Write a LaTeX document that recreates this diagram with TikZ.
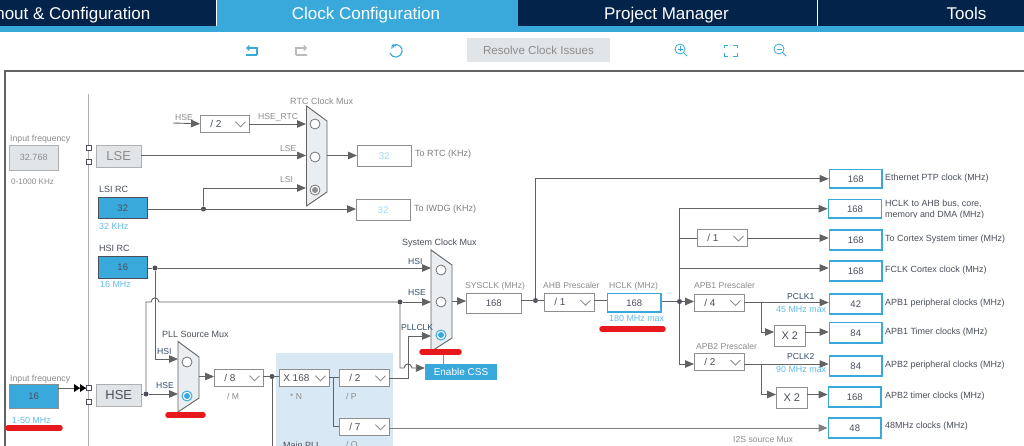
\documentclass[tikz,border=0pt]{standalone}
\usepackage{fontspec}
\setmainfont{Liberation Sans}
\usetikzlibrary{arrows.meta}
\definecolor{navy}{HTML}{03234B}
\definecolor{stblue}{HTML}{39A9DC}
\definecolor{lightgrey}{HTML}{E2E5E8}
\definecolor{muxfill}{HTML}{EAEEF1}
\definecolor{linegrey}{HTML}{626262}
\definecolor{boxgrey}{HTML}{8E8E8E}
\definecolor{txtgrey}{HTML}{8C8C8C}
\definecolor{txtdark}{HTML}{4A4F5A}
\definecolor{txtblue}{HTML}{62BDE8}
\definecolor{pllbg}{HTML}{D9E8F5}
\definecolor{redbar}{HTML}{E8191C}
\tikzset{
  conn/.style={draw=linegrey,line width=0.9pt},
  wire/.style={conn,-{Triangle[length=9pt,width=7.5pt]}},
  bx/.style={draw=boxgrey,line width=0.9pt,fill=white,inner sep=0pt,font=\fontsize{9.5}{11}\selectfont,text=txtdark},
  outbx/.style={draw=stblue,line width=1.8pt,fill=white,inner sep=0pt,font=\fontsize{9.5}{11}\selectfont,text=txtdark},
  bluebx/.style={draw=boxgrey,line width=0.9pt,fill=stblue,inner sep=0pt,font=\fontsize{9.5}{11}\selectfont,text=txtdark},
  bluebxdk/.style={draw=txtdark,line width=1pt,fill=stblue,inner sep=0pt,font=\fontsize{9.5}{11}\selectfont,text=txtdark},
  greybx/.style={draw=boxgrey!70,line width=0.9pt,fill=lightgrey,inner sep=0pt,font=\fontsize{13}{14}\selectfont,text=txtdark},
  disbx/.style={bx,text=txtblue!60,draw=boxgrey},
  lab/.style={anchor=west,inner sep=0pt,yshift=-0.8pt,font=\fontsize{8.6}{10}\selectfont,text=txtgrey},
  labdk/.style={lab,text=txtdark,font=\fontsize{9}{10}\selectfont},
  labrt/.style={lab,text=txtdark,font=\fontsize{8.95}{10.8}\selectfont},
  labbl/.style={lab,text=txtblue,font=\fontsize{8.9}{10}\selectfont},
  labnv/.style={lab,text=navy!80},
  tabtxt/.style={inner sep=0pt,text=white,text height=12pt,text depth=4pt,font=\fontsize{17}{19}\selectfont},
  dotn/.style={circle,fill=txtdark,inner sep=0pt,minimum size=5pt},
  port/.style={draw=txtdark,line width=0.8pt,fill=white,inner sep=0pt,minimum size=5.5pt},
  muxs/.style={draw=linegrey,line width=0.9pt,fill=muxfill},
  radio/.style={draw=txtdark!80,line width=0.8pt,fill=white,circle,inner sep=0pt,minimum size=10pt},
  radiosel/.style={draw=stblue,line width=1pt,fill=white,circle,inner sep=0pt,minimum size=10pt},
  redline/.style={draw=redbar,line width=5.5pt,line cap=round},
  icon/.style={draw=stblue,line width=1.1pt},
  iconoff/.style={draw=boxgrey!60,line width=1.1pt},
}
% box from corners
\newcommand{\mybx}[7]{%
  \pgfmathsetmacro{\cxa}{(#3+#5)/2}\pgfmathsetmacro{\cya}{(#4+#6)/2}%
  \pgfmathsetmacro{\wa}{#5-#3}\pgfmathsetmacro{\ha}{#6-#4}%
  \node[#2,minimum width=\wa pt,minimum height=\ha pt] (#1) at (\cxa,\cya) {#7};}
% combo box with chevron
\newcommand{\mycombo}[7][10pt]{%
  \mybx{#2}{bx}{#3}{#4}{#5}{#6}{}%
  \node[inner sep=0pt,anchor=west,font=\fontsize{10}{11}\selectfont,text=txtdark] (#2t) at ([xshift=#1]#2.west) {#7};
  \draw[draw=boxgrey,line width=0.9pt] ([xshift=-14pt,yshift=2pt]#2.east) -- ([xshift=-9pt,yshift=-3pt]#2.east) -- ([xshift=-4pt,yshift=2pt]#2.east);}
\begin{document}
\begin{tikzpicture}[x=1pt,y=-1pt]
\useasboundingbox (0,0) rectangle (1024,446);
\clip (0,0) rectangle (1024,446);
\fill[white] (0,0) rectangle (1024,446);
% header
\fill[navy] (0,0) rectangle (1024,26);
\fill[stblue] (0,26) rectangle (1024,32);
\fill[stblue] (217,0) rectangle (518,26);
\draw[white,line width=0.9pt] (216.5,0) -- (216.5,26);
\draw[white,line width=0.9pt] (817.5,0) -- (817.5,26);
\node[tabtxt,anchor=east] (t1) at (150.5,16) {nout \& Configuration};
\node[tabtxt] (t2) at (366,16) {Clock Configuration};
\node[tabtxt] (t3) at (666.5,16) {Project Manager};
\node[tabtxt] (t4) at (966.5,16) {Tools};
% toolbar
\mybx{resolve}{fill=lightgrey,inner sep=0pt,text=txtgrey,font=\fontsize{11.6}{13}\selectfont}{467}{38}{610}{62}{Resolve Clock Issues}
\draw[icon,-{Straight Barb[length=2.5pt,width=5pt]}] (257,55) -- (257,48) -- (246,48);
\draw[icon] (246,55) -- (257,55);
\draw[iconoff,-{Straight Barb[length=2.5pt,width=5pt]}] (296,55) -- (296,48) -- (307,48);
\draw[iconoff] (296,55) -- (307,55);
\draw[icon] (393,45) .. controls (399,43) and (403,48) .. (402,52) .. controls (401,58) and (392,59) .. (390,53);
\draw[icon,-{Straight Barb[length=2.5pt,width=5pt]}] (394,47.5) -- (392,44.5);
\draw[icon,line width=0.8pt] (680,49) circle (5);
\draw[icon,line width=0.8pt] (684,53) -- (687,56);
\draw[icon,line width=0.8pt] (677.5,49) -- (682.5,49) (680,46.5) -- (680,51.5);
\draw[icon,line width=0.8pt] (724,48) -- (724,45) -- (728,45) (733,45) -- (737,45) -- (737,48) (724,53) -- (724,56.5) -- (728,56.5) (733,56.5) -- (737,56.5) -- (737,53);
\draw[icon,line width=0.8pt] (779,49) circle (5);
\draw[icon,line width=0.8pt] (783,53) -- (786,56);
\draw[icon,line width=0.8pt] (776.5,49) -- (781.5,49);
% frame
\draw[draw=linegrey,line width=2pt] (5,447) -- (5,71) -- (1025,71);
\draw[draw=boxgrey!70,line width=0.9pt] (88.5,94) -- (88.5,447);
% PLL panel
\fill[pllbg] (276,353) rectangle (393,447);
% ---- text labels, left
\node[lab,font=\fontsize{8.7}{10}\selectfont] (lif1) at (10,138) {Input frequency};
\mybx{inlse}{greybx,font=\fontsize{9}{10}\selectfont,text=txtgrey}{9.5}{145.5}{58}{170}{32.768}
\node[lab,font=\fontsize{8.1}{9}\selectfont] (lrange1) at (11,181) {0-1000 KHz};
\mybx{lse}{greybx,text=txtgrey}{96.5}{145.5}{141}{167}{LSE}
\node[port] (p1) at (89,148) {};
\node[port] (p2) at (89,162) {};
\node[labdk] (llsi) at (99,189) {LSI RC};
\mybx{lsirc}{bluebxdk}{98.5}{197.5}{147}{219}{32}
\node[labbl] (llsi2) at (99,226) {32 KHz};
\node[labdk] (lhsi) at (99,248) {HSI RC};
\mybx{hsirc}{bluebxdk}{98.5}{256.5}{147}{278}{16}
\node[labbl] (lhsi2) at (100,284) {16 MHz};
\node[lab,font=\fontsize{8.7}{10}\selectfont] (lif2) at (10,378) {Input frequency};
\mybx{inhse}{bluebx}{9.5}{384.5}{58}{408}{16}
\node[labbl] (lrange2) at (12,420) {1-50 MHz};
\mybx{hse}{greybx}{96.5}{384.5}{141}{406}{HSE}
\node[port] (p3) at (89,388) {};
\node[port] (p4) at (89,402) {};
\coordinate (ifo) at (58,388);
\draw[conn] (ifo) -- (p3.west);
\fill[black] (74,384) -- (80,388) -- (74,392) -- cycle;
\fill[black] (80,384) -- (86,388) -- (80,392) -- cycle;
% ---- muxes
\draw[muxs] (306.5,106) -- (327,121) -- (327,192) -- (306.5,206) -- cycle;
\node[labdk,text=txtgrey] (lrtc) at (290,100) {RTC Clock Mux};
\node[radio] (r1) at (315,124) {};
\node[radio] (r2) at (315,157) {};
\node[radio] (r3) at (315,190) {};
\fill[txtgrey] (r3) circle (3);
\coordinate (rtcA) at (306,124);
\coordinate (rtcB) at (306,155.5);
\coordinate (rtcC) at (306,188);
\coordinate (rtcO) at (327,155.5);
\draw[muxs] (431,250) -- (452,265) -- (452,338) -- (431,351.5) -- cycle;
\node[labdk] (lsys) at (402,242) {System Clock Mux};
\node[radio] (s1) at (441,270) {};
\node[radio] (s2) at (441,302) {};
\node[radiosel] (s3) at (441,335) {};
\fill[stblue] (s3) circle (3);
\coordinate (sysA) at (431,268);
\coordinate (sysB) at (431,302);
\coordinate (sysC) at (431,336);
\coordinate (sysO) at (452,301);
\draw[muxs] (178,341.5) -- (199,357) -- (199,398) -- (178,412) -- cycle;
\node[labdk] (lpll) at (162,334) {PLL Source Mux};
\node[radio] (m1) at (187,362) {};
\node[radiosel] (m2) at (187,396) {};
\fill[stblue] (m2) circle (3);
\coordinate (pllA) at (178,359);
\coordinate (pllB) at (178,394);
\coordinate (pllO) at (199,376.5);
% ---- RTC part
\coordinate (hsefree) at (173,123);
\node[lab] (lh1) at (175,117) {HSE};
\mycombo{div2}{200.5}{115.5}{249}{132}{/ 2}
\draw[wire] (hsefree) -- (div2.west);
\draw[wire] (div2.east |- rtcA) -- (rtcA);
\node[lab] (lh2) at (258,117) {HSE\_RTC};
\draw[wire] (lse.east |- rtcB) -- (rtcB);
\node[lab] (lh3) at (280,148) {LSE};
\mybx{rtc}{disbx}{357.5}{145.5}{411}{166}{32}
\draw[wire] (rtcO) -- (rtc.west |- rtcO);
\node[labdk,text=txtgrey!90!black] (lrtcout) at (415,153) {To RTC (KHz)};
\node[lab] (lh4) at (280,179) {LSI};
\mybx{iwdg}{disbx}{356.5}{199.5}{410}{220}{32}
\node[labdk,text=txtgrey!90!black] (liwdg) at (414,208) {To IWDG (KHz)};
\node[dotn] (dlsi) at (203.5,209) {};
\draw[wire] (lsirc.east |- dlsi) -- (iwdg.west |- dlsi);
\draw[wire] (dlsi) |- (rtcC);
% ---- HSI / HSE buses
\node[dotn] (dhsi) at (155,268) {};
\draw[conn] (hsirc.east |- dhsi) -- (dhsi);
\draw[wire] (dhsi) -- (sysA |- dhsi);
\draw[wire] (dhsi) |- (pllA);
\node[dotn] (dhse) at (146,394) {};
\draw[conn] (hse.east |- dhse) -- (dhse);
\draw[wire] (dhse) -- (pllB);
\node[dotn] (dbus) at (400,302) {};
\coordinate (bumpa) at (151,302);
\coordinate (bumpb) at (159,302);
\draw[conn] (dhse) |- (bumpa) .. controls (152,296.5) and (158,296.5) .. (bumpb) -- (dbus);
\draw[wire] (dbus) -- (sysB);
\node[labnv] (lhsi3) at (408,261) {HSI};
\node[labnv] (lhse3) at (408,292) {HSE};
\node[labnv] (lpllclk) at (401,327) {PLLCLK};
\node[labnv] (lhsi4) at (157,351) {HSI};
\node[labnv] (lhse4) at (156,385) {HSE};
% ---- PLL
\mycombo{divm}{214.5}{369.5}{263}{386}{/ 8}
\draw[wire] (pllO) -- (divm.west |- pllO);
\node[lab] (lm) at (227,396) {/ M};
\node[dotn] (dpll) at (272,376.5) {};
\mycombo[4pt]{mulx}{279.5}{369.5}{329}{386}{X 168}
\node[lab] (ln) at (290,396) {* N};
\mycombo{divp}{339.5}{369.5}{389}{386}{/ 2}
\node[lab] (lp) at (346,396) {/ P};
\mycombo{divq}{339.5}{418.5}{389}{435}{/ 7}
\node[lab] (lq) at (346,444) {/ Q};
\node[labdk] (lmain) at (283,444) {Main PLL};
\draw[conn] (divm.east |- dpll) -- (mulx.west |- dpll);
\coordinate (dpllb) at (272,447);
\draw[conn] (dpll) -- (dpllb);
\coordinate (npq) at (333,377);
\draw[conn] (mulx.east |- npq) -- (divp.west |- npq);
\draw[conn] (npq) |- (divq.west);
% ---- system out
\mybx{sysclk}{bx}{466.5}{293.5}{521}{313}{168}
\draw[wire] (sysO) -- (sysclk.west |- sysO);
\node[lab] (lsysclk) at (465,285) {SYSCLK (MHz)};
% Enable CSS
\mybx{css}{fill=stblue,inner sep=0pt,text=white,font=\fontsize{10}{12}\selectfont}{425}{364}{497}{380}{Enable CSS}
\coordinate (muxb) at (443,350);
\draw[draw=boxgrey,line width=0.9pt] (muxb) -- (css.north -| muxb);
\coordinate (pa) at (408,378);
\draw[wire] (divp.east |- pa) -- (pa) |- (sysC);
\coordinate (cssb) at (404,368);
\coordinate (cssc) at (412,368);
\draw[wire] (dbus) |- (cssb) .. controls (405,362.5) and (411,362.5) .. (cssc) -- (css.west |- cssc);
% ---- AHB
\node[dotn] (dahb) at (535.5,300.5) {};
\mycombo{ahb}{544.5}{293.5}{594}{311}{/ 1}
\node[lab] (lahb) at (543,285) {AHB Prescaler};
\mybx{hclk}{outbx}{607.5}{293.5}{661}{312}{168}
\node[lab] (lhclk) at (609,285) {HCLK (MHz)};
\node[labbl] (l180) at (609,318) {180 MHz max};
\draw[conn] (sysclk.east |- dahb) -- (ahb.west |- dahb);
\draw[conn] (ahb.east |- dahb) -- (hclk.west |- dahb);
\node[dotn] (dhclk) at (679.5,301.5) {};
\draw[conn] (hclk.east |- dhclk) -- (dhclk);
\mybx{eth}{outbx}{829.5}{169.5}{882}{188}{168}
\node[labrt] (leth) at (885,177.5) {Ethernet PTP clock (MHz)};
\draw[wire] (dahb) |- (eth.west);
\mybx{ahbc}{outbx}{828.5}{199.5}{881.5}{218}{168}
\begin{scope}
\clip (880,195) rectangle (1024,218);
\node[labrt,align=left] (lahbc) at (885,208.5) {HCLK to AHB bus, core,\\memory and DMA (MHz)};
\end{scope}
\draw[wire] (dhclk) |- (ahbc.west);
\coordinate (cy) at (679.5,238);
\mycombo{cort}{697.5}{229.5}{747}{246.5}{/ 1}
\mybx{cortb}{outbx}{829.5}{230}{882}{250}{168}
\node[labrt] (lcort) at (885,238.5) {To Cortex System timer (MHz)};
\draw[conn] (dhclk) |- (cort.west |- cy);
\draw[wire] (cort.east |- cy) -- (cortb.west |- cy);
\mybx{fclk}{outbx}{829.5}{261}{882}{281}{168}
\node[labrt] (lfclk) at (885,269.5) {FCLK Cortex clock (MHz)};
\coordinate (fy) at (679.5,268);
\draw[wire] (fy) -- (fclk.west |- fy);
\draw[conn] (dhclk) -- (fy);
% APB1
\mycombo{apb1}{694.5}{294}{744}{311}{/ 4}
\node[lab] (lapb1) at (694,285) {APB1 Prescaler};
\draw[wire] (dhclk) -- (apb1.west |- dhclk);
\mybx{apb1c}{outbx}{829.5}{294}{882}{314}{42}
\node[labrt] (lapb1c) at (885,302.5) {APB1 peripheral clocks (MHz)};
\coordinate (a1y) at (744,302.5);
\coordinate (a1j) at (761,302.5);
\draw[wire] (a1y) -- (apb1c.west |- a1y);
\node[labnv] (lpclk1) at (787,296) {PCLK1};
\node[labbl] (l45) at (776,309) {45 MHz max};
\mybx{x21}{bx,font=\fontsize{11}{12}\selectfont}{774.5}{325.5}{805}{346}{X 2}
\coordinate (x1y) at (774,332);
\draw[wire] (a1j) |- (x1y);
\mybx{apb1t}{outbx}{829.5}{322.5}{882}{343}{84}
\node[labrt] (lapb1t) at (885,331.5) {APB1 Timer clocks (MHz)};
\draw[wire] (x21.east |- x1y) -- (apb1t.west |- x1y);
% APB2
\mycombo{apb2}{694.5}{353.5}{744}{370.5}{/ 2}
\node[lab] (lapb2) at (696,346) {APB2 Prescaler};
\coordinate (a2w) at (694,364);
\draw[wire] (dhclk) |- (a2w);
\mybx{apb2c}{outbx}{829.5}{356}{882}{376}{84}
\node[labrt] (lapb2c) at (885,364) {APB2 peripheral clocks (MHz)};
\coordinate (a2y) at (744,364);
\coordinate (a2j) at (761,364);
\draw[wire] (a2y) -- (apb2c.west |- a2y);
\node[labnv] (lpclk2) at (787,356) {PCLK2};
\node[labbl] (l90) at (776,369) {90 MHz max};
\mybx{x22}{bx,font=\fontsize{11}{12}\selectfont}{776.5}{387.5}{807}{408}{X 2}
\coordinate (x2y) at (776,394.5);
\draw[wire] (a2j) |- (x2y);
\mybx{apb2t}{outbx}{828.5}{387}{881}{407}{168}
\node[labrt] (lapb2t) at (885,395.5) {APB2 timer clocks (MHz)};
\draw[wire] (x22.east |- x2y) -- (apb2t.west |- x2y);
% 48 MHz
\mybx{m48}{outbx}{828.5}{418}{881}{438}{48}
\node[labrt] (lm48) at (885,425) {48MHz clocks (MHz)};
\coordinate (qy) at (389,428);
\draw[wire,draw=linegrey!80] (qy) -- (m48.west |- qy);
\node[lab] (li2s) at (733,439) {I2S source Mux};
% red marks
\coordinate (ra1) at (8,428);\coordinate (ra2) at (60,428);
\draw[redline] (ra1) -- (ra2);
\coordinate (rb1) at (168,415);\coordinate (rb2) at (203,415);
\draw[redline] (rb1) -- (rb2);
\coordinate (rc1) at (422,352);\coordinate (rc2) at (459,352);
\draw[redline] (rc1) -- (rc2);
\coordinate (rd1) at (602,329);\coordinate (rd2) at (663,329);
\draw[redline] (rd1) -- (rd2);
\end{tikzpicture}
\end{document}
